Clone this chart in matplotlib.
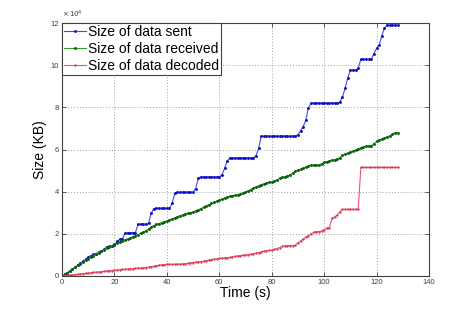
import numpy as np
import matplotlib.pyplot as plt
from matplotlib.ticker import FuncFormatter

# time axis (s), one sample per second
t = np.arange(0, 129)

# values, in units of 1e4 KB
sent = [0, 0.08, 0.16, 0.24, 0.33, 0.42, 0.52, 0.62, 0.70, 0.80,
        0.90, 0.97, 1.02, 1.06, 1.12, 1.18, 1.26, 1.38, 1.40, 1.42,
        1.46, 1.65, 1.74, 1.75, 2.02, 2.05, 2.05, 2.05, 2.06, 2.45,
        2.46, 2.46, 2.46, 2.50, 2.97, 3.20, 3.21, 3.21, 3.21, 3.21,
        3.21, 3.21, 3.44, 3.92, 3.97, 3.97, 3.97, 3.97, 3.97, 3.97,
        3.97, 4.15, 4.65, 4.70, 4.70, 4.70, 4.70, 4.70, 4.70, 4.70,
        4.70, 4.80, 5.10, 5.45, 5.60, 5.60, 5.60, 5.60, 5.60, 5.60,
        5.60, 5.60, 5.60, 5.60, 5.70, 6.05, 6.63, 6.63, 6.63, 6.63,
        6.63, 6.63, 6.63, 6.63, 6.63, 6.63, 6.63, 6.63, 6.63, 6.63,
        6.70, 6.89, 7.08, 7.39, 7.98, 8.20, 8.20, 8.20, 8.20, 8.20,
        8.20, 8.20, 8.20, 8.20, 8.20, 8.20, 8.25, 8.50, 8.90, 9.40,
        9.76, 9.77, 9.77, 9.85, 10.27, 10.28, 10.28, 10.28, 10.28, 10.55,
        10.80, 10.95, 11.40, 11.75, 11.90, 11.90, 11.90, 11.90, 11.90]

received = [0, 0.08, 0.16, 0.25, 0.33, 0.42, 0.50, 0.58, 0.66, 0.74,
            0.82, 0.90, 0.97, 1.04, 1.11, 1.18, 1.25, 1.32, 1.38, 1.44,
            1.50, 1.56, 1.61, 1.66, 1.71, 1.76, 1.81, 1.86, 1.91, 1.96,
            2.02, 2.08, 2.15, 2.24, 2.32, 2.39, 2.45, 2.49, 2.53, 2.57,
            2.61, 2.66, 2.71, 2.76, 2.81, 2.86, 2.90, 2.94, 2.97, 3.00,
            3.04, 3.09, 3.14, 3.20, 3.26, 3.33, 3.39, 3.44, 3.49, 3.55,
            3.60, 3.64, 3.69, 3.74, 3.78, 3.81, 3.83, 3.86, 3.89, 3.93,
            3.98, 4.04, 4.10, 4.17, 4.23, 4.28, 4.33, 4.37, 4.41, 4.44,
            4.47, 4.50, 4.56, 4.63, 4.68, 4.71, 4.75, 4.80, 4.88, 4.96,
            5.02, 5.07, 5.12, 5.17, 5.22, 5.26, 5.27, 5.27, 5.27, 5.32,
            5.39, 5.43, 5.46, 5.50, 5.52, 5.55, 5.62, 5.72, 5.78, 5.82,
            5.88, 5.92, 5.98, 6.04, 6.08, 6.12, 6.16, 6.16, 6.18, 6.28,
            6.38, 6.45, 6.50, 6.55, 6.60, 6.65, 6.72, 6.79, 6.79]

decoded = [0, 0.01, 0.03, 0.04, 0.06, 0.07, 0.08, 0.10, 0.11, 0.12,
           0.14, 0.15, 0.17, 0.18, 0.19, 0.21, 0.22, 0.24, 0.25, 0.26,
           0.28, 0.29, 0.30, 0.31, 0.32, 0.33, 0.34, 0.35, 0.36, 0.37,
           0.38, 0.39, 0.40, 0.42, 0.44, 0.46, 0.49, 0.51, 0.53, 0.54,
           0.55, 0.55, 0.55, 0.55, 0.56, 0.56, 0.57, 0.58, 0.60, 0.62,
           0.64, 0.66, 0.67, 0.68, 0.70, 0.72, 0.75, 0.78, 0.80, 0.82,
           0.84, 0.85, 0.86, 0.87, 0.88, 0.90, 0.93, 0.95, 0.97, 0.99,
           1.00, 1.01, 1.03, 1.05, 1.08, 1.11, 1.15, 1.18, 1.20, 1.21,
           1.23, 1.26, 1.30, 1.35, 1.40, 1.43, 1.44, 1.44, 1.44, 1.45,
           1.58, 1.67, 1.75, 1.85, 1.92, 2.00, 2.07, 2.10, 2.11, 2.13,
           2.20, 2.28, 2.30, 2.73, 2.80, 2.90, 3.05, 3.16, 3.16, 3.16,
           3.16, 3.16, 3.16, 3.16, 5.15, 5.15, 5.15, 5.15, 5.15, 5.15,
           5.15, 5.15, 5.15, 5.15, 5.15, 5.15, 5.15, 5.15, 5.15]

labels = ['Size of data sent', 'Size of data received', 'Size of data decoded']

plt.rcParams['font.family'] = ['Liberation Sans', 'DejaVu Sans']

fig = plt.figure(figsize=(4.74, 3.10), dpi=100)
ax = fig.add_axes([62 / 474, 34 / 310, 367 / 474, 253 / 310])

scale = 1e4
ax.plot(t, np.array(sent) * scale, '.-', color='#4848f0', mfc='#1010c0', mec='#1010c0',
        lw=0.8, ms=2.2, label=labels[0])
ax.plot(t, np.array(received) * scale, '.-', color='#30a030', mfc='#0a600a', mec='#0a600a',
        lw=0.8, ms=2.2, label=labels[1])
ax.plot(t, np.array(decoded) * scale, '.-', color='#ec5470', mfc='#d83858', mec='#d83858',
        lw=0.8, ms=1.4, label=labels[2])

ax.set_xlim(0, 140)
ax.set_ylim(0, 12e4)
ax.set_xticks(np.arange(0, 141, 20))
ax.set_yticks(np.arange(0, 12.1e4, 2e4))
ax.yaxis.set_major_formatter(FuncFormatter(lambda v, p: '%d' % round(v / scale)))
ax.text(0.0, 1.012, r'$\times\,10^{4}$', transform=ax.transAxes, fontsize=5,
        color='#404040', ha='left', va='bottom')

ax.tick_params(direction='in', labelsize=5.5, labelcolor='#404040', color='#404040',
               length=3, width=0.6, top=True, right=True, pad=2)
for s in ax.spines.values():
    s.set_color('#404040')
    s.set_linewidth(0.8)

ax.grid(True, linestyle=(0, (1, 2)), color='#a0a0a0', linewidth=0.7)

ax.set_xlabel('Time (s)', fontsize=10, labelpad=0)
ax.set_ylabel('Size (KB)', fontsize=10, labelpad=3)

leg = ax.legend(loc='upper left', fontsize=10, frameon=True, fancybox=False,
                borderpad=0.15, labelspacing=0.2, handlelength=1.6, handletextpad=0.1,
                borderaxespad=0, framealpha=1)
leg.get_frame().set_edgecolor('#404040')
leg.get_frame().set_linewidth(0.8)

fig.savefig('out.png', dpi=100)
